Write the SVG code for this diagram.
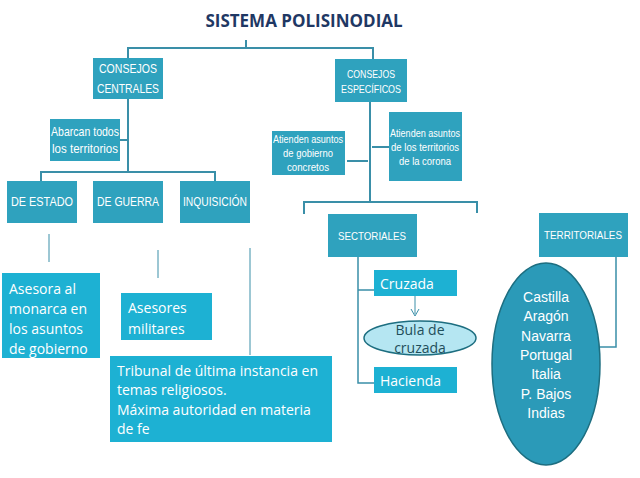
<svg xmlns="http://www.w3.org/2000/svg" width="640" height="478" viewBox="0 0 640 478">
<style>
.b{fill:#2fa2be}.c{fill:#1db1d3}
text{font-family:"Liberation Sans",sans-serif;fill:#fff}
.l{stroke:#3a8fa8;stroke-width:2;fill:none}
.t{font-size:13px}.s{font-size:11px}
.m2{font-size:14px;font-family:"Open Sans","Liberation Sans",sans-serif}
</style>
<rect width="640" height="478" fill="#fff"/>
<text x="304" y="27" text-anchor="middle" font-size="17" font-weight="bold" style="fill:#1f3864;font-family:'Open Sans','Liberation Sans',sans-serif">SISTEMA POLISINODIAL</text>
<g id="connectors" class="l">
<path d="M246 40V48M128 58V48H373V59"/>
<path d="M128 99V172M120 140H128M41 181V172H215V181"/>
<path d="M370 102V202M347 161H368M372 147H389M304 214V202H477V213"/>
<path d="M49 234V262M158 250V278M250 248V355" stroke-width="1"/>
<path d="M358 257V383H374M358 290H374" stroke-width="1.5"/>
<path d="M616 257V347H600" stroke-width="1.5"/>
<path d="M415 296V314M411 309L415 316L419 309" stroke-width="1"/>
</g>
<g id="cc"><rect class="b" x="93" y="58" width="70" height="41"/><text class="t" x="128" y="73" text-anchor="middle" textLength="58" lengthAdjust="spacingAndGlyphs">CONSEJOS</text><text class="t" x="128" y="93" text-anchor="middle" textLength="62" lengthAdjust="spacingAndGlyphs">CENTRALES</text></g>
<g id="ce"><rect class="b" x="335" y="59" width="72" height="43"/><text class="s" x="371" y="78" text-anchor="middle" textLength="48" lengthAdjust="spacingAndGlyphs">CONSEJOS</text><text class="s" x="371" y="93" text-anchor="middle" textLength="60" lengthAdjust="spacingAndGlyphs">ESPECÍFICOS</text></g>
<g id="abarcan"><rect class="b" x="50" y="119" width="70" height="42"/><text class="t" x="85" y="136" text-anchor="middle" textLength="68" lengthAdjust="spacingAndGlyphs">Abarcan todos</text><text class="t" x="85" y="153" text-anchor="middle" textLength="66" lengthAdjust="spacingAndGlyphs">los territorios</text></g>
<g id="at1"><rect class="b" x="272" y="131" width="73" height="44"/><text class="s" x="308" y="143" text-anchor="middle" textLength="70" lengthAdjust="spacingAndGlyphs">Atienden asuntos</text><text class="s" x="308" y="157" text-anchor="middle" textLength="50" lengthAdjust="spacingAndGlyphs">de gobierno</text><text class="s" x="308" y="171" text-anchor="middle" textLength="42" lengthAdjust="spacingAndGlyphs">concretos</text></g>
<g id="at2"><rect class="b" x="389" y="112" width="73" height="69"/><text class="s" x="425" y="137" text-anchor="middle" textLength="70" lengthAdjust="spacingAndGlyphs">Atienden asuntos</text><text class="s" x="425" y="151" text-anchor="middle" textLength="68" lengthAdjust="spacingAndGlyphs">de los territorios</text><text class="s" x="425" y="165" text-anchor="middle" textLength="52" lengthAdjust="spacingAndGlyphs">de la corona</text></g>
<g id="estado"><rect class="b" x="7" y="181" width="70" height="42"/><text class="t" x="42" y="206" text-anchor="middle" textLength="62" lengthAdjust="spacingAndGlyphs">DE ESTADO</text></g>
<g id="guerra"><rect class="b" x="93" y="181" width="70" height="42"/><text class="t" x="128" y="206" text-anchor="middle" textLength="62" lengthAdjust="spacingAndGlyphs">DE GUERRA</text></g>
<g id="inq"><rect class="b" x="180" y="181" width="70" height="42"/><text class="t" x="215" y="206" text-anchor="middle" textLength="64" lengthAdjust="spacingAndGlyphs">INQUISICIÓN</text></g>
<g id="sect"><rect class="b" x="328" y="214" width="89" height="43"/><text class="s" x="372" y="240" text-anchor="middle" textLength="68" lengthAdjust="spacingAndGlyphs">SECTORIALES</text></g>
<g id="terr"><rect class="b" x="539" y="213" width="89" height="44"/><text class="s" x="583" y="239" text-anchor="middle" textLength="78" lengthAdjust="spacingAndGlyphs">TERRITORIALES</text></g>
<g id="asesora"><rect class="c" x="2" y="273" width="98" height="85"/><text class="m2" x="9" y="294">Asesora al</text><text class="m2" x="9" y="314">monarca en</text><text class="m2" x="9" y="334">los asuntos</text><text class="m2" x="9" y="354">de gobierno</text></g>
<g id="asesores"><rect class="c" x="121" y="293" width="91" height="47"/><text class="m2" x="128" y="313">Asesores</text><text class="m2" x="128" y="334">militares</text></g>
<g id="tribunal"><rect class="c" x="110" y="356" width="222" height="86"/><text class="m2" x="117" y="376">Tribunal de última instancia en</text><text class="m2" x="117" y="395">temas religiosos.</text><text class="m2" x="117" y="415">Máxima autoridad en materia</text><text class="m2" x="117" y="434">de fe</text></g>
<g id="cruzada"><rect class="c" x="374" y="270" width="83" height="26"/><text class="m2" x="380" y="289">Cruzada</text></g>
<g id="bula"><ellipse cx="420" cy="338" rx="56" ry="17" fill="#b5e6f2" stroke="#1d6e80" stroke-width="1.5"/><text class="m2" x="420" y="335" text-anchor="middle" style="fill:#1f4e5a">Bula de</text><text class="m2" x="420" y="353" text-anchor="middle" style="fill:#1f4e5a">cruzada</text></g>
<g id="hacienda"><rect class="c" x="374" y="367" width="83" height="26"/><text class="m2" x="380" y="386">Hacienda</text></g>
<g id="reinos"><ellipse cx="546" cy="364" rx="54" ry="101" fill="#2b9ab8" stroke="#1d6e80" stroke-width="1.5"/>
<g class="m2" text-anchor="middle"><text x="546" y="302">Castilla</text><text x="546" y="321">Aragón</text><text x="546" y="341">Navarra</text><text x="546" y="360">Portugal</text><text x="546" y="379">Italia</text><text x="546" y="399">P. Bajos</text><text x="546" y="418">Indias</text></g></g>
</svg>
